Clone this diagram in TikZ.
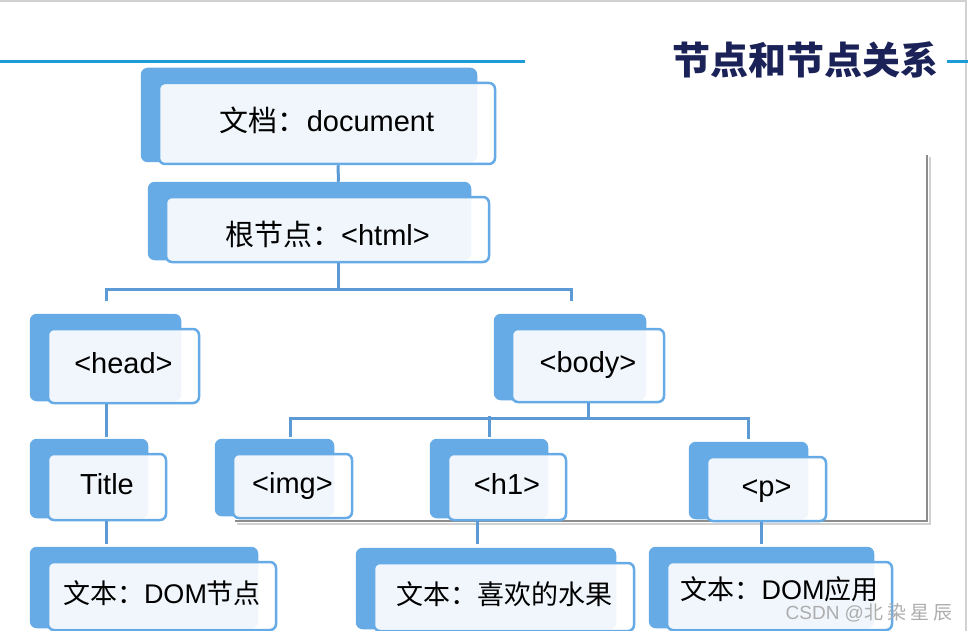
\documentclass[tikz,border=0pt]{standalone}
\usepackage{fontspec}
\setmainfont{Liberation Sans}
\newfontfamily\cjk{Noto Sans CJK SC}
\usepackage{tikz}
\usetikzlibrary{backgrounds}
\definecolor{boxblue}{HTML}{66AAE6}
\definecolor{linkblue}{HTML}{5B9AD4}
\definecolor{rulecyan}{HTML}{1E9BD7}
\definecolor{titlenavy}{HTML}{1B2257}

\begin{document}
\begin{tikzpicture}[x=1pt,y=-1pt,
	box/.style={draw=boxblue, line width=2.5pt, fill=white, fill opacity=0.9, text opacity=1,
		rounded corners=6pt, inner sep=0pt, text height=20pt, text depth=6pt,
		font=\fontsize{29}{32}\selectfont},
	leaf/.style={box, font=\fontsize{27}{30}\selectfont},
	back/.style={fill=boxblue, rounded corners=7pt},
	link/.style={draw=linkblue, line width=3pt}]
	\useasboundingbox (0,0) rectangle (968,631);

	% page edge and heading
	\draw[black!18, line width=1.5pt] (0,1) -- (966,1) -- (966,631);
	\draw[rulecyan, line width=3pt] (0,62) -- (525,62);
	\draw[rulecyan, line width=3pt] (947,62) -- (968,62);
	\node[font=\cjk\bfseries\fontsize{38}{40}\selectfont, text=titlenavy] (heading) at (805,60) {节点和节点关系};

	% tree
	\node[box, minimum width=336pt, minimum height=81pt, text height=21pt, text depth=4pt] (doc) at (327,123.5) {{\cjk 文档：}document};
	\node[box, minimum width=323pt, minimum height=65pt, text height=31pt, text depth=0pt] (html) at (327.5,229.5) {{\cjk 根节点：}<html>};
	\node[box, minimum width=151pt, minimum height=74pt] (head) at (123.5,366) {<head>};
	\node[box, minimum width=152pt, minimum height=73pt] (body) at (588,365.5) {<body>};
	\node[box, minimum width=118pt, minimum height=66pt] (title) at (107,487) {Title};
	\node[box, minimum width=119pt, minimum height=64pt] (img) at (292.5,486) {<img>};
	\node[box, minimum width=118pt, minimum height=66pt] (h1) at (507,487) {<h1>};
	\node[box, minimum width=119pt, minimum height=64pt] (p) at (766.5,489) {<p>};
	\node[leaf, minimum width=228pt, minimum height=68pt] (t1) at (162,596) {{\cjk 文本：}DOM{\cjk 节点}};
	\node[leaf, minimum width=260pt, minimum height=68pt] (t2) at (504,597) {{\cjk 文本：喜欢的水果}};
	\node[leaf, minimum width=225pt, minimum height=68pt, text height=16pt, text depth=10pt] (t3) at (779.5,596) {{\cjk 文本：}DOM{\cjk 应用}};

	\begin{scope}[on background layer]
		% framed panel
		\draw[black!18, line width=2pt] (237,523.5) -- (929.5,523.5) -- (929.5,157);
		\draw[black!45, line width=1.5pt] (235,521) -- (927,521) -- (927,155);
		\foreach \n in {doc,html,head,body,title,img,h1,p,t1,t2,t3}
			\fill[back] ([xshift=-17,yshift=14]\n.north west) rectangle ([xshift=-19,yshift=3]\n.south east);
	\end{scope}

	\draw[link] ([xshift=11]doc.south) -- ([xshift=11,yshift=14]html.north);
	\draw[link] ([xshift=10.5]html.south) -- ++(0,26) coordinate (b1);
	\draw[link] ([xshift=-17.5,yshift=27]head.north) |- (b1) -| ([xshift=-17,yshift=27]body.north);
	\draw[link] ([xshift=-17.5]head.south) -- ([xshift=-1,yshift=16]title.north);
	\draw[link] ([xshift=-1]title.south) -- ([xshift=-56,yshift=17]t1.north);

	\draw[link] (body.south) -- ++(0,15) coordinate (b2);
	\draw[link] ([xshift=-2.5,yshift=16]img.north) |- (b2) -| ([xshift=-18.5,yshift=17]p.north);
	\draw[link] ([xshift=-18,yshift=16]h1.north) -- ++(0,-21);
	\draw[link] ([xshift=-30]h1.south) -- ([xshift=-27,yshift=18]t2.north);
	\draw[link] ([xshift=-5.5]p.south) -- ([xshift=-18.5,yshift=17]t3.north);

	\node[text=black!32, font=\fontsize{19}{21}\selectfont, anchor=base east, inner sep=0pt] (mark) at (953,619) {CSDN @{\cjk 北 染 星 辰}};
\end{tikzpicture}
\end{document}
